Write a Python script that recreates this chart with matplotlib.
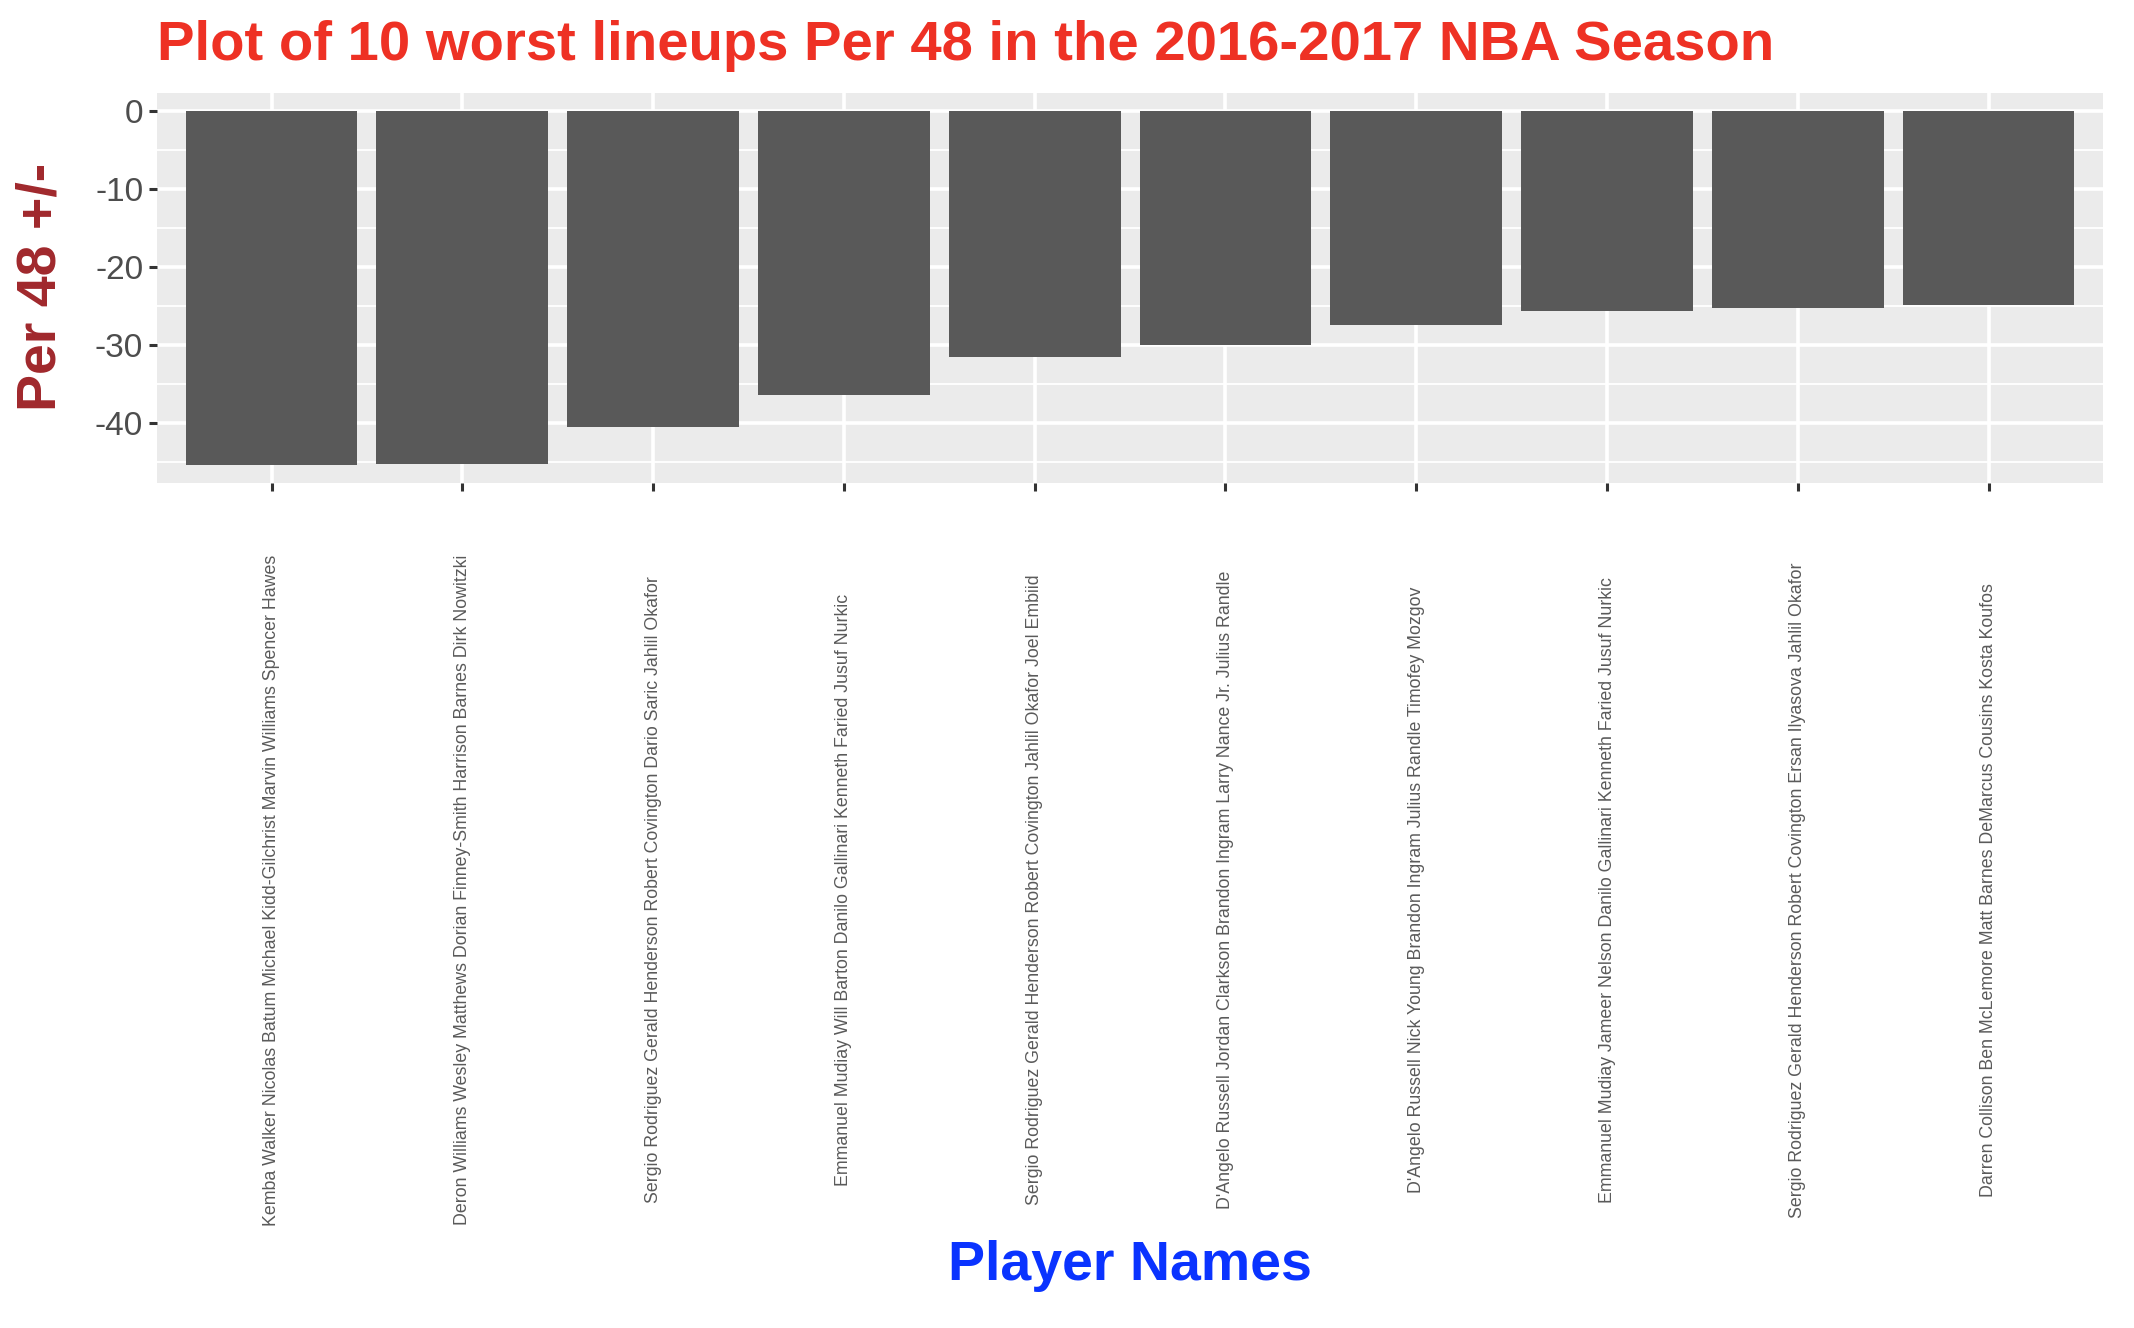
import matplotlib
matplotlib.use("Agg")
import matplotlib.pyplot as plt
import matplotlib.transforms as mtransforms

# worst lineups, 2016-2017 season
lineups = [
    "Kemba Walker Nicolas Batum Michael Kidd-Gilchrist Marvin Williams Spencer Hawes",
    "Deron Williams Wesley Matthews Dorian Finney-Smith Harrison Barnes Dirk Nowitzki",
    "Sergio Rodriguez Gerald Henderson Robert Covington Dario Saric Jahlil Okafor",
    "Emmanuel Mudiay Will Barton Danilo Gallinari Kenneth Faried Jusuf Nurkic",
    "Sergio Rodriguez Gerald Henderson Robert Covington Jahlil Okafor Joel Embiid",
    "D'Angelo Russell Jordan Clarkson Brandon Ingram Larry Nance Jr. Julius Randle",
    "D'Angelo Russell Nick Young Brandon Ingram Julius Randle Timofey Mozgov",
    "Emmanuel Mudiay Jameer Nelson Danilo Gallinari Kenneth Faried Jusuf Nurkic",
    "Sergio Rodriguez Gerald Henderson Robert Covington Ersan Ilyasova Jahlil Okafor",
    "Darren Collison Ben McLemore Matt Barnes DeMarcus Cousins Kosta Koufos",
]
per48 = [-45.4, -45.2, -40.5, -36.4, -31.5, -30.0, -27.5, -25.6, -25.3, -24.9]
y_ticks = [0, -10, -20, -30, -40]
y_minor = [-5, -15, -25, -35, -45]

plt.rcParams['font.family'] = ['Liberation Sans', 'DejaVu Sans']
plt.rcParams['axes.unicode_minus'] = False

fig = plt.figure(figsize=(21.34, 13.28), dpi=100)
ax = fig.add_axes([0.0736, 0.6363, 0.9119, 0.2937])

x = list(range(1, len(lineups) + 1))
ax.bar(x, per48, width=0.9, color='#595959', zorder=3)

lo = min(per48)
pad = (0 - lo) * 0.05
ax.set_ylim(lo - pad, pad)
ax.set_xlim(0.4, len(lineups) + 0.6)

# ggplot grey panel
ax.set_facecolor('#EBEBEB')
for s in ax.spines.values():
    s.set_visible(False)
ax.set_yticks(y_ticks)
ax.set_yticks(y_minor, minor=True)
ax.set_xticks(x)
ax.grid(which='major', color='white', linewidth=2.6, zorder=0)
ax.grid(which='minor', axis='y', color='white', linewidth=1.3, zorder=0)
ax.tick_params(axis='y', which='major', labelsize=24, labelcolor='#4D4D4D',
               color='#333333', length=6, width=2.2, pad=4)
ax.tick_params(axis='y', which='minor', length=0)
ax.tick_params(axis='x', length=6, width=2.2, color='#333333', labelbottom=False)

# rotated category labels centred below the ticks
trans = mtransforms.blended_transform_factory(ax.transData, fig.transFigure)
for xi, name in zip(x, lineups):
    ax.text(xi, 1 - 890 / 1328, name, transform=trans, rotation=90,
            ha='center', va='center', fontsize=12.8, color='#5A5A5A')

fig.text(157 / 2134, 1 - 46 / 1328, "Plot of 10 worst lineups Per 48 in the 2016-2017 NBA Season",
         fontsize=40.5, fontweight='bold', color='#EE3124', ha='left', va='center')
fig.text(42 / 2134, 1 - 287 / 1328, "Per 48 +/-", rotation=90, fontsize=40,
         fontweight='bold', color='#A0282C', ha='center', va='center')
fig.text(0.5296, 1 - 1266 / 1328, "Player Names", fontsize=40, fontweight='bold',
         color='#0A33FF', ha='center', va='center')

fig.savefig("out.png", dpi=100, facecolor='white')
